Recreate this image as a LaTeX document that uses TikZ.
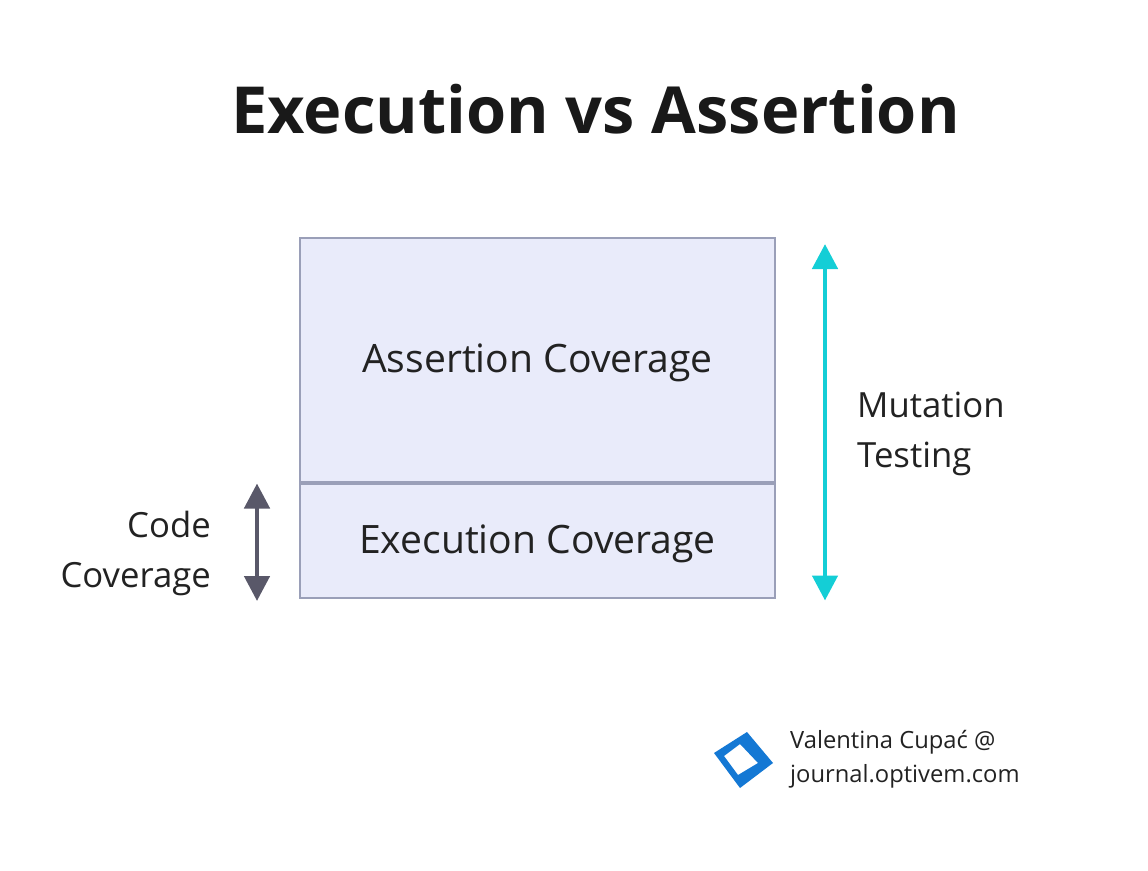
\documentclass[tikz,border=0pt]{standalone}
\usepackage{fontspec}
\setmainfont{Open Sans}
\usetikzlibrary{arrows.meta}
\definecolor{boxfill}{HTML}{E9EBFA}
\definecolor{boxline}{HTML}{9A9FB8}
\definecolor{codeline}{HTML}{595869}
\definecolor{mutline}{HTML}{14CED6}
\definecolor{logoblue}{HTML}{1478D4}
\definecolor{inktext}{HTML}{222222}
\tikzset{
  layerbox/.style={draw=boxline,fill=boxfill,line width=2.7pt,minimum width=475pt,inner sep=0pt,
                   text height=32pt,text depth=8pt,
                   text=inktext,font=\fontsize{39.1}{46}\selectfont},
  sidelabel/.style={text=inktext,font=\fontsize{34.7}{50}\selectfont,inner sep=0pt},
  span/.style={line width=#1,{Triangle[width=25pt,length=25pt]}-{Triangle[width=25pt,length=25pt]}}
}
\begin{document}
\begin{tikzpicture}[x=1pt,y=-1pt]
\useasboundingbox (0,0) rectangle (1148,870);
\node[text=black!90,font=\fontsize{64.9}{78}\selectfont\bfseries,inner sep=0pt] (title) at (595.5,109) {Execution vs Assertion};
\node[layerbox,minimum height=244pt] (assertion) at (537.5,360) {Assertion Coverage};
\node[layerbox,minimum height=114pt] (execution) at (537.5,541) {Execution Coverage};
% free ends of the two arrows
\coordinate (codetop) at (257,483.5);
\coordinate (codebot) at (257,601);
\coordinate (muttop) at (825,244);
\coordinate (mutbot) at (825,600.5);
\draw[span=4.7pt,draw=codeline,fill=codeline] (codetop) -- (codebot);
\draw[span=4.7pt,draw=mutline,fill=mutline] (muttop) -- (mutbot);
\node[sidelabel,align=right,anchor=east] (codelabel) at (211,553.5) {Code\\Coverage};
\node[sidelabel,align=left,anchor=west] (mutlabel) at (857,433.5) {Mutation\\Testing};
% logo
\fill[logoblue,even odd rule] (714,753) -- (747,732) -- (773,763) -- (740,788) -- cycle
  (724,756) -- (740,744) -- (758,763) -- (738,775) -- cycle;
\node[text=inktext,align=left,anchor=west,inner sep=0pt,font=\fontsize{23.75}{34}\selectfont] (credit) at (790,759) {Valentina Cupać @\\journal.optivem.com};
\end{tikzpicture}
\end{document}
